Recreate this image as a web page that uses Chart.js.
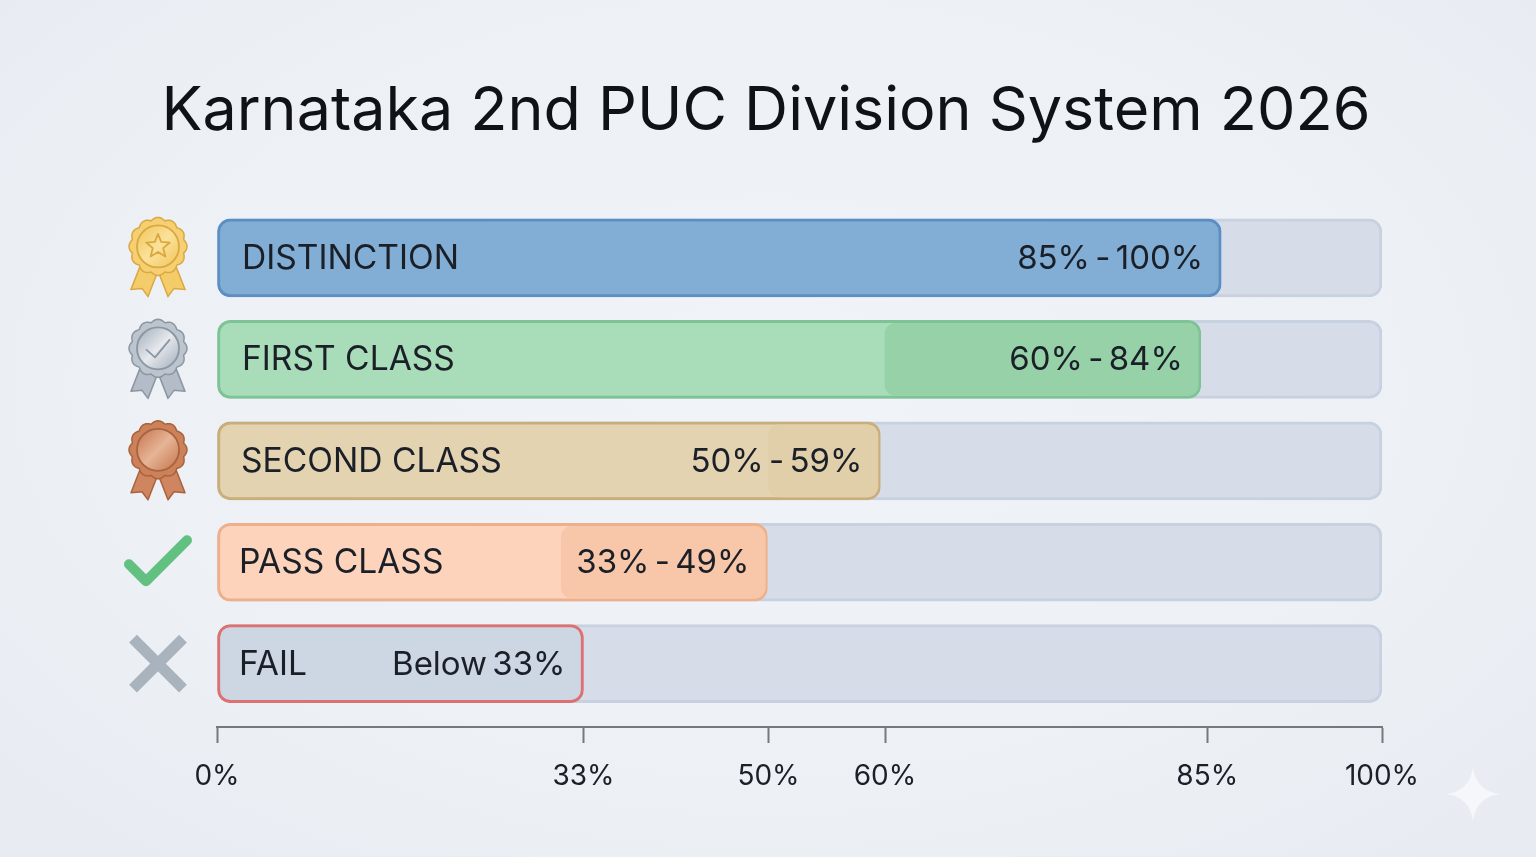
<!DOCTYPE html>
<html>
<head>
<meta charset="utf-8">
<title>Karnataka 2nd PUC Division System 2026</title>
<script src="https://cdn.jsdelivr.net/npm/chart.js@4"></script>
<style>
    html, body { margin: 0; padding: 0; }
    body { width: 1536px; height: 857px; overflow: hidden; background: radial-gradient(ellipse at 50% 45%, #f0f3f7 0%, #edf0f5 60%, #e7ebf1 100%); }
    canvas { display: block; }
</style>
</head>
<body>
<canvas id="divisionChart" width="1536" height="857"></canvas>
<script>
const categories = ['DISTINCTION', 'FIRST CLASS', 'SECOND CLASS', 'PASS CLASS', 'FAIL'];
const rangeLabels = ['85% - 100%', '60% - 84%', '50% - 59%', '33% - 49%', 'Below 33%'];
const barEnds = [86.2, 84.5, 59.6, 49.9, 33];
const bandStarts = [null, 60, 50, 31, null];
const tickValues = [0, 33, 50, 60, 85, 100];
// the axis in the picture is not evenly spaced, share of the width at each tick
const tickShares = [0, 0.3146, 0.4734, 0.5734, 0.85, 1];

const fillColors = ['#82aed5', '#a9dcb9', '#e3d3b0', '#fdd3bb', '#cdd6e3'];
const borderColors = ['#5b8fc4', '#7dc395', '#c9ad7a', '#eeb08b', '#dd7070'];
const bandColors = ['#82aed5', '#96d1a8', '#e0cfa9', '#f8c7aa', '#cdd6e3'];
const labelInsets = [25, 25, 24, 22, 22];
const textColor = '#1a1f28';

class UnevenScale extends Chart.LinearScale {
    getPixelForValue(value) {
        if (value === null || value === undefined) return NaN;
        let i = 0;
        while (i < tickValues.length - 2 && value > tickValues[i + 1]) i++;
        const t = (value - tickValues[i]) / (tickValues[i + 1] - tickValues[i]);
        return this.left + this.width * (tickShares[i] + t * (tickShares[i + 1] - tickShares[i]));
    }
    getValueForPixel(pixel) {
        const share = (pixel - this.left) / this.width;
        let i = 0;
        while (i < tickShares.length - 2 && share > tickShares[i + 1]) i++;
        const t = (share - tickShares[i]) / (tickShares[i + 1] - tickShares[i]);
        return tickValues[i] + t * (tickValues[i + 1] - tickValues[i]);
    }
}
UnevenScale.id = 'uneven';
UnevenScale.defaults = Chart.LinearScale.defaults;
Chart.register(UnevenScale);

function drawMedal(ctx, cx, cy, outer, mid, dark, hi, mark) {
    for (const s of [-1, 1]) {
        ctx.beginPath();
        ctx.moveTo(cx + s * 18, cy + 20);
        ctx.lineTo(cx + s * 1, cy + 27);
        ctx.lineTo(cx + s * 10, cy + 50);
        ctx.lineTo(cx + s * 16, cy + 42);
        ctx.lineTo(cx + s * 27, cy + 43);
        ctx.closePath();
        ctx.fillStyle = mid;
        ctx.strokeStyle = dark;
        ctx.lineWidth = 1.5;
        ctx.fill();
        ctx.stroke();
    }
    ctx.beginPath();
    for (let a = 0; a <= 360; a += 3) {
        const rad = a * Math.PI / 180;
        const r = 26.5 + 2.5 * Math.abs(Math.cos(6 * rad));
        ctx.lineTo(cx + r * Math.sin(rad), cy - r * Math.cos(rad));
    }
    ctx.closePath();
    ctx.fillStyle = outer;
    ctx.strokeStyle = dark;
    ctx.lineWidth = 1.5;
    ctx.fill();
    ctx.stroke();

    const grad = ctx.createLinearGradient(cx - 15, cy - 15, cx + 15, cy + 15);
    grad.addColorStop(0, mid);
    grad.addColorStop(0.5, hi);
    grad.addColorStop(1, mid);
    ctx.beginPath();
    ctx.arc(cx, cy, 21, 0, Math.PI * 2);
    ctx.fillStyle = grad;
    ctx.strokeStyle = dark;
    ctx.lineWidth = 1.8;
    ctx.fill();
    ctx.stroke();

    ctx.strokeStyle = dark;
    ctx.lineWidth = 1.8;
    ctx.lineJoin = 'round';
    ctx.beginPath();
    if (mark === 'star') {
        for (let k = 0; k < 10; k++) {
            const rad = k * Math.PI / 5;
            const r = k % 2 ? 5.5 : 12.5;
            ctx.lineTo(cx + r * Math.sin(rad), cy - r * Math.cos(rad));
        }
        ctx.closePath();
        ctx.stroke();
    } else if (mark === 'check') {
        ctx.moveTo(cx - 12, cy + 1);
        ctx.lineTo(cx - 3, cy + 9);
        ctx.lineTo(cx + 12, cy - 9);
        ctx.stroke();
    }
}

const rowIcons = {
    id: 'rowIcons',
    afterDatasetsDraw(chart) {
        const ctx = chart.ctx;
        const y = chart.scales.y;
        const cx = chart.scales.x.left - 59;
        ctx.save();
        drawMedal(ctx, cx, y.getPixelForValue(0) - 11.5, '#f6cf73', '#f4cc6a', '#d9a83f', '#fbe29b', 'star');
        drawMedal(ctx, cx, y.getPixelForValue(1) - 11, '#bcc4cd', '#b3bcc7', '#8b96a3', '#e6e9ed', 'check');
        drawMedal(ctx, cx, y.getPixelForValue(2) - 11, '#cb8159', '#cf8660', '#a9623c', '#e6b497', 'none');

        const checkY = y.getPixelForValue(3);
        ctx.beginPath();
        ctx.moveTo(cx - 29, checkY + 2);
        ctx.lineTo(cx - 12, checkY + 19);
        ctx.lineTo(cx + 29, checkY - 22);
        ctx.strokeStyle = '#62c180';
        ctx.lineWidth = 10;
        ctx.lineJoin = 'round';
        ctx.lineCap = 'round';
        ctx.stroke();

        const crossY = y.getPixelForValue(4);
        ctx.beginPath();
        ctx.moveTo(cx - 25, crossY - 25);
        ctx.lineTo(cx + 25, crossY + 25);
        ctx.moveTo(cx + 25, crossY - 25);
        ctx.lineTo(cx - 25, crossY + 25);
        ctx.strokeStyle = '#a9b3be';
        ctx.lineWidth = 11;
        ctx.lineCap = 'butt';
        ctx.stroke();

        // sparkle in the corner
        const sx = 1473, sy = 794, sr = 27;
        ctx.beginPath();
        ctx.moveTo(sx, sy - sr);
        ctx.quadraticCurveTo(sx + 3, sy - 3, sx + sr, sy);
        ctx.quadraticCurveTo(sx + 3, sy + 3, sx, sy + sr);
        ctx.quadraticCurveTo(sx - 3, sy + 3, sx - sr, sy);
        ctx.quadraticCurveTo(sx - 3, sy - 3, sx, sy - sr);
        ctx.fillStyle = '#f5f7fa';
        ctx.fill();
        ctx.restore();
    },
};

const barText = {
    id: 'barText',
    afterDatasetsDraw(chart) {
        const ctx = chart.ctx;
        const bars = chart.getDatasetMeta(1).data;
        ctx.save();
        ctx.fillStyle = textColor;
        ctx.textBaseline = 'middle';
        bars.forEach((bar, i) => {
            ctx.font = '33.6px Inter';
            ctx.wordSpacing = '0px';
            ctx.textAlign = 'left';
            ctx.fillText(categories[i], chart.scales.x.left + labelInsets[i], bar.y + 1);
            ctx.font = '33px Inter';
            ctx.wordSpacing = '-4px';
            ctx.textAlign = 'right';
            ctx.fillText(rangeLabels[i], bar.x - 18, bar.y + 1);
        });
        ctx.restore();
    },
};

new Chart(document.getElementById('divisionChart'), {
    type: 'bar',
    plugins: [rowIcons, barText],
    data: {
        labels: categories,
        datasets: [
            {
                data: categories.map(() => [0, 100]),
                backgroundColor: '#d6dde9',
                borderColor: '#c8d1df',
                borderWidth: 3,
                borderRadius: 13,
                borderSkipped: false,
                barThickness: 78,
                order: 3,
            },
            {
                data: barEnds.map(v => [0, v]),
                backgroundColor: fillColors,
                borderColor: borderColors,
                borderWidth: 3,
                borderRadius: 13,
                borderSkipped: false,
                barThickness: 78,
                order: 2,
            },
            {
                data: bandStarts.map((v, i) => (v === null ? null : [v, barEnds[i] - 0.2])),
                backgroundColor: bandColors,
                borderWidth: 0,
                borderRadius: 11,
                borderSkipped: false,
                barThickness: 72,
                order: 1,
            },
        ],
    },
    options: {
        indexAxis: 'y',
        responsive: false,
        animation: false,
        // left and right differ so the title lands where it sits in the picture
        layout: { padding: { left: 150, right: 154, top: 0, bottom: 142.6 } },
        datasets: { bar: { grouped: false } },
        plugins: {
            legend: { display: false },
            tooltip: { enabled: false },
            title: {
                display: true,
                text: 'Karnataka 2nd PUC Division System 2026',
                color: '#0f1217',
                font: { family: 'Inter', size: 61, weight: '400' },
                padding: { top: 75, bottom: 59 },
            },
        },
        scales: {
            x: {
                type: 'uneven',
                min: 0,
                max: 100,
                position: { y: 4.62 },
                afterBuildTicks: scale => { scale.ticks = tickValues.map(value => ({ value })); },
                border: { color: '#727a80', width: 2 },
                grid: { drawOnChartArea: false, tickColor: '#727a80', tickWidth: 2, tickLength: 15 },
                ticks: {
                    color: textColor,
                    font: { family: 'Inter', size: 28 },
                    padding: 18,
                    autoSkip: false,
                    maxRotation: 0,
                    callback: v => v + '%',
                },
            },
            y: {
                border: { display: false },
                grid: { display: false },
                ticks: { display: false },
                afterFit: scale => { scale.width = 67; },
            },
        },
    },
});
</script>
</body>
</html>
